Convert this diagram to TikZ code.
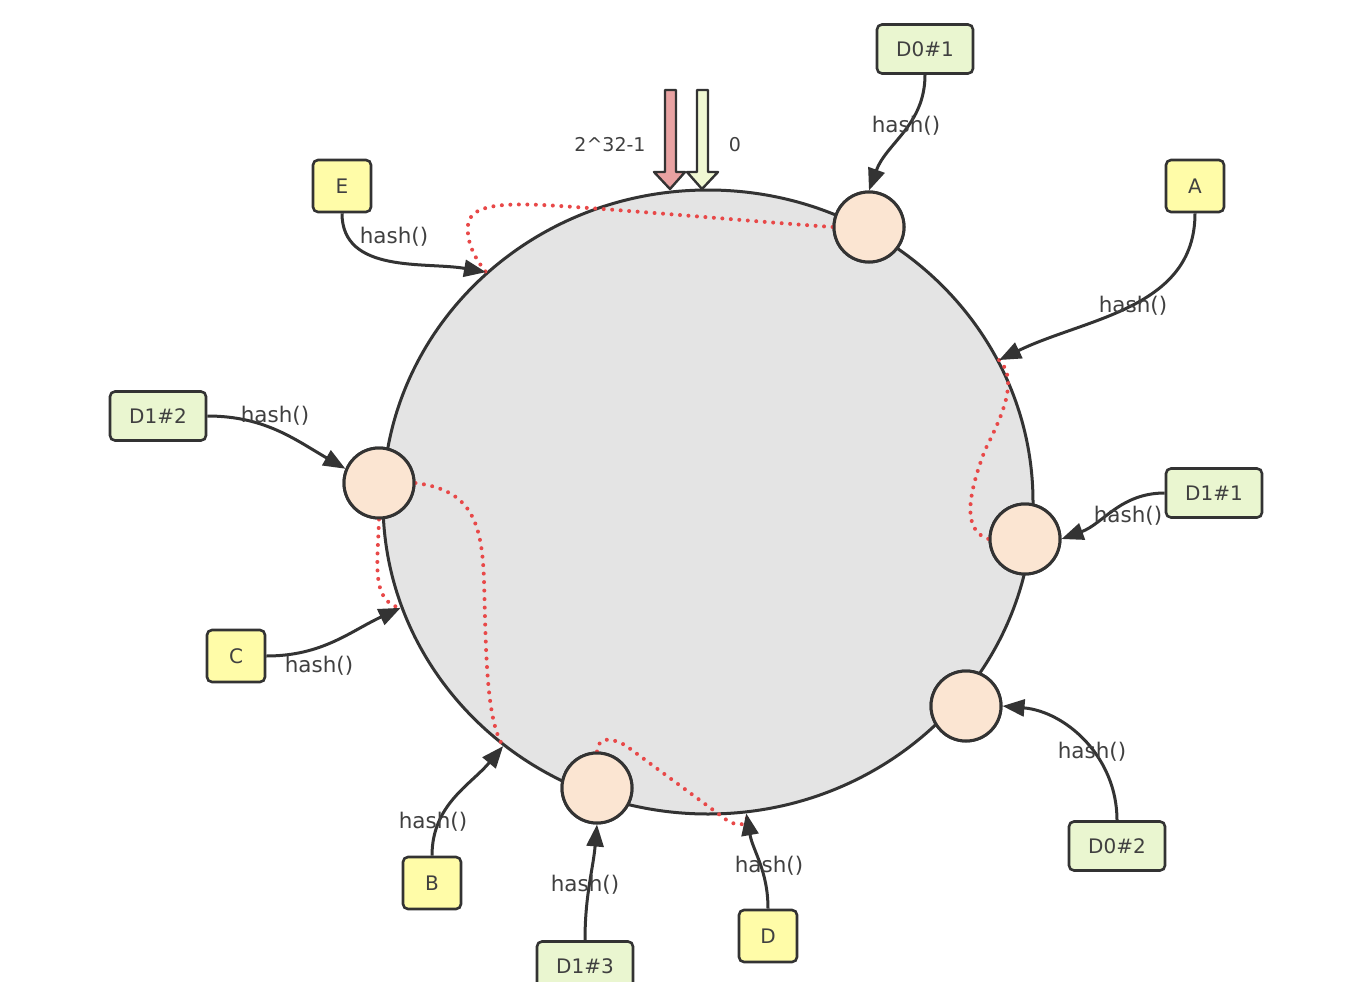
\documentclass[tikz,border=0pt]{standalone}
\usepackage{fontspec}
\setmainfont{DejaVu Sans}
\usetikzlibrary{arrows.meta,shapes.geometric}
\definecolor{linec}{HTML}{333333}
\definecolor{txt}{HTML}{404040}
\definecolor{ringfill}{HTML}{E4E4E4}
\definecolor{peach}{HTML}{FBE5D2}
\definecolor{yel}{HTML}{FFFCA8}
\definecolor{grn}{HTML}{EAF6D0}
\definecolor{redd}{HTML}{E84848}
\definecolor{redarrow}{HTML}{E8A2A2}
\definecolor{grnarrow}{HTML}{F0F8D2}
\tikzset{
  box/.style={draw=linec, line width=2.6pt, rounded corners=5pt, minimum height=49pt, inner sep=0pt, font=\fontsize{20}{24}\selectfont, text=txt},
  ybox/.style={box, fill=yel, minimum width=58pt, minimum height=52pt},
  gbox/.style={box, fill=grn, minimum width=96pt},
  hnode/.style={circle, draw=linec, fill=peach, line width=3pt, minimum size=70pt, inner sep=0pt},
  conn/.style={draw=linec, line width=3pt, -{Triangle[length=22pt,width=17pt]}},
  lbl/.style={font=\fontsize{21.5}{25}\selectfont, text=txt, inner sep=0pt},
  redpath/.style={draw=redd, line width=4pt, dash pattern=on 0pt off 8.5pt, line cap=round},
  blockarrow/.style={draw=linec, line width=2.4pt, line join=round}
}
\begin{document}
\begin{tikzpicture}[x=1pt,y=-1pt]
\useasboundingbox (0,0) rectangle (1368,982);
\clip (0,0) rectangle (1368,982);
\fill[white] (0,0) rectangle (1368,982);

% ring
\node[ellipse, draw=linec, fill=ringfill, line width=3pt, minimum width=650pt, minimum height=624pt, inner sep=0pt] (ring) at (708,502) {};

% top block arrows
\draw[blockarrow, fill=redarrow] (665,90) -- (676,90) -- (676,172) -- (685,172) -- (670,189) -- (654,172) -- (665,172) -- cycle;
\draw[blockarrow, fill=grnarrow] (697,90) -- (708,90) -- (708,172) -- (718,172) -- (702,189) -- (687,172) -- (697,172) -- cycle;
\node[lbl, font=\fontsize{19}{23}\selectfont] (maxl) at (610,145) {2\^{}32-1};
\node[lbl, font=\fontsize{19}{23}\selectfont] (zerol) at (735,145) {0};

% hash nodes on ring
\node[hnode] (n1) at (869,227) {};
\node[hnode] (n2) at (1025,539) {};
\node[hnode] (n3) at (966,706) {};
\node[hnode] (n4) at (597,788) {};
\node[hnode] (n5) at (379,483) {};

% red dotted mapping paths
\draw[redpath] (n1.west) .. controls (760,222) and (650,212) .. (560,206) .. controls (500,202) and (470,205) .. (468,225) .. controls (466,245) and (478,262) .. (ring.134);
\draw[redpath] (ring.26) .. controls (1020,380) and (1000,420) .. (985,450) .. controls (970,490) and (960,530) .. (n2.west);
\draw[redpath] (n5.east) .. controls (470,490) and (482,520) .. (484,580) .. controls (486,650) and (486,720) .. (ring.230);
\draw[redpath] (n5.south) .. controls (378,560) and (370,602) .. (ring.199.5);
\draw[redpath] (n4.north) .. controls (598,740) and (605,735) .. (625,745) -- (720,815) .. controls (735,828) and (750,828) .. (ring.277);

% redraw circles over dotted starts
\node[hnode] at (869,227) {};
\node[hnode] at (1025,539) {};
\node[hnode] at (966,706) {};
\node[hnode] at (597,788) {};
\node[hnode] at (379,483) {};

% boxes
\node[gbox] (d01) at (925,49) {D0\#1};
\node[ybox] (e) at (342,186) {E};
\node[ybox] (a) at (1195,186) {A};
\node[gbox] (d12) at (158,416) {D1\#2};
\node[gbox] (d11) at (1214,493) {D1\#1};
\node[ybox] (c) at (236,656) {C};
\node[gbox] (d02) at (1117,846) {D0\#2};
\node[ybox] (b) at (432,883) {B};
\node[gbox] (d13) at (585,966) {D1\#3};
\node[ybox] (d) at (768,936) {D};

% connectors
\draw[conn] (d01.south) to[out=-90,in=70] (n1.north);
\draw[conn] (e.south) to[out=-90,in=170] (ring.134);
\draw[conn] (a.south) to[out=-90,in=26] (ring.26);
\draw[conn] (d12.east) to[out=0,in=150] (n5.157);
\draw[conn] (d11.west) to[out=180,in=20] (n2.east);
\draw[conn] (c.east) to[out=0,in=205] (ring.199.5);
\draw[conn] (d02.north) to[out=90,in=-5] (n3.east);
\draw[conn] (b.north) to[out=90,in=230] (ring.230);
\draw[conn] (d13.north) to[out=90,in=-95] (n4.south);
\draw[conn] (d.north) to[out=90,in=-80] (ring.277);

% hash labels
\node[lbl] (h1) at (906,126) {hash()};
\node[lbl] (h2) at (394,237) {hash()};
\node[lbl] (h3) at (1133,306) {hash()};
\node[lbl] (h4) at (275,416) {hash()};
\node[lbl] (h5) at (1128,516) {hash()};
\node[lbl] (h6) at (319,666) {hash()};
\node[lbl] (h7) at (1092,752) {hash()};
\node[lbl] (h8) at (433,822) {hash()};
\node[lbl] (h9) at (585,885) {hash()};
\node[lbl] (h10) at (769,866) {hash()};
\end{tikzpicture}
\end{document}
